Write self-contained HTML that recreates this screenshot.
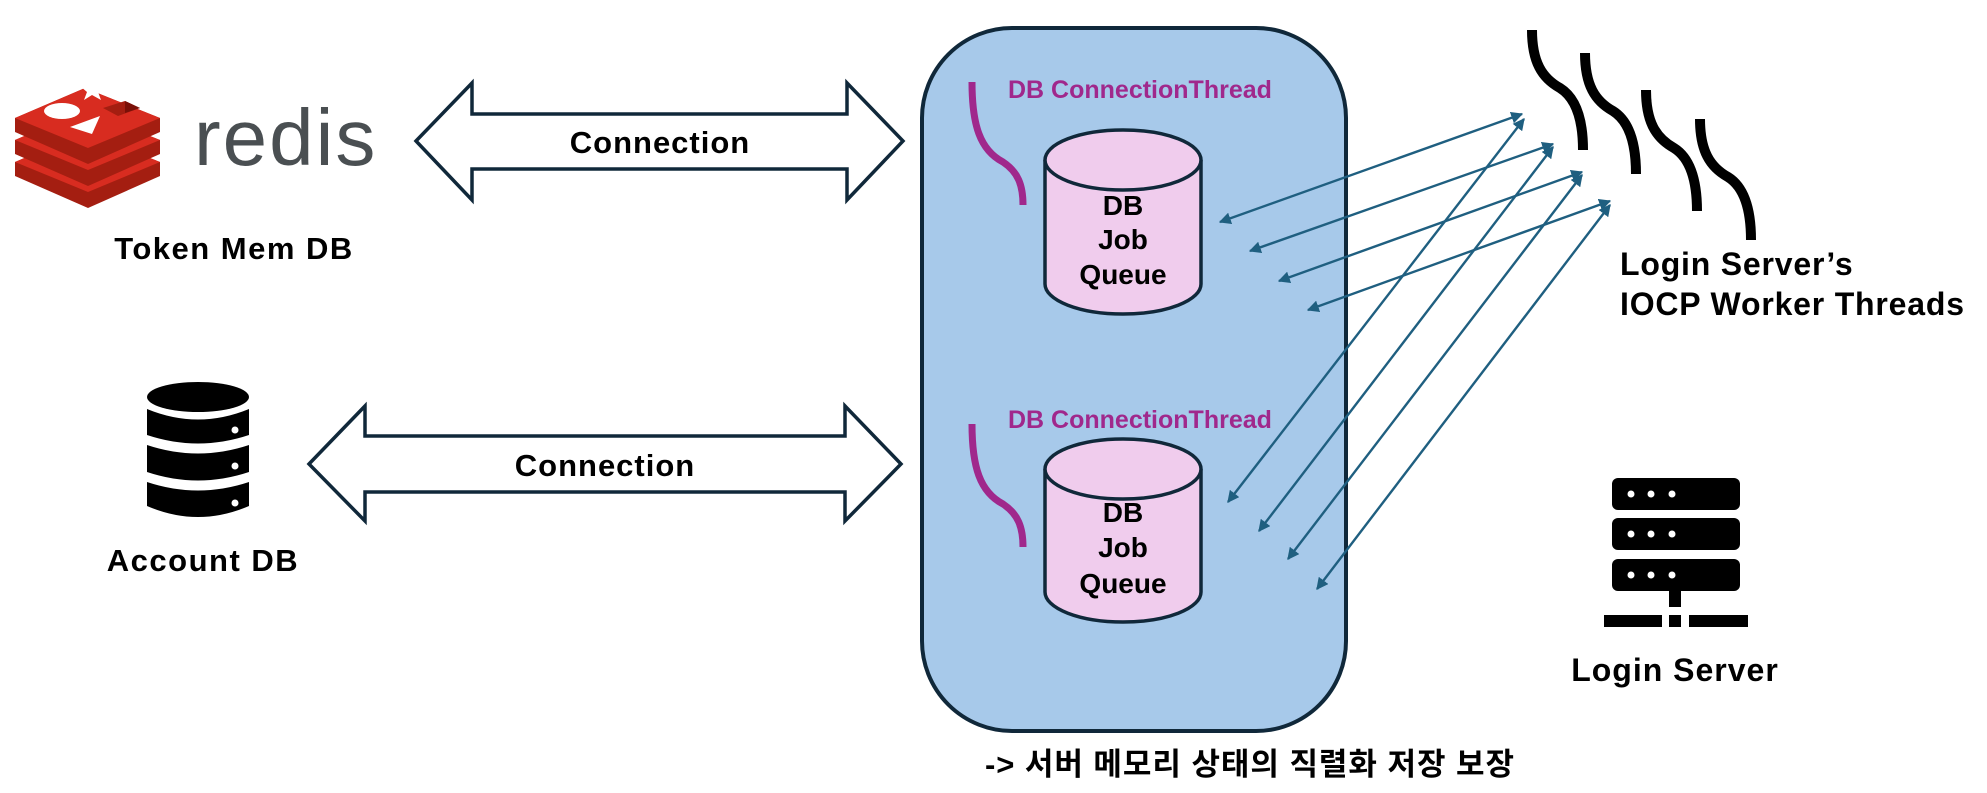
<!DOCTYPE html>
<html><head><meta charset="utf-8"><style>
html,body{margin:0;padding:0;background:#fff;}
svg{display:block;}
text{font-family:"Liberation Sans","Noto Sans CJK KR",sans-serif;font-weight:bold;}
</style></head><body>
<svg width="1987" height="793" viewBox="0 0 1987 793" xmlns="http://www.w3.org/2000/svg">
<defs>
<marker id="ah" viewBox="0 0 10 10" refX="9" refY="5" markerWidth="5" markerHeight="5" orient="auto-start-reverse">
<path d="M0,0 L10,5 L0,10 z" fill="#1f5f80"/></marker>
<g id="slab">
<path d="M15,118 L85,88 L160,118 L160,132 L88,164 L15,132 Z" fill="#a41e11"/>
<path d="M15,118 L85,88 L160,118 L88,148 Z" fill="#d82c20"/>
</g>
</defs>
<!-- redis logo -->
<use href="#slab" y="44"/>
<use href="#slab" y="22"/>
<use href="#slab" y="0"/>
<ellipse cx="62" cy="111" rx="18" ry="8" fill="#fff"/>
<polygon points="92,78 96,86 105,86 98,92 101,100 92,95 84,100 87,92 80,86 88,86" fill="#fff"/>
<polygon points="70,127 100,116 92,134" fill="#fff"/>
<polygon points="103,108 125,101 140,108 118,116" fill="#a41e11"/>
<polygon points="125,101 140,108 125,113" fill="#7a1008"/>
<text x="194" y="165" font-size="80" fill="#4a4f52" style="font-weight:normal" letter-spacing="2">redis</text>
<text x="234" y="259" font-size="31" text-anchor="middle" letter-spacing="1.5">Token Mem DB</text>

<!-- DB icon -->
<g fill="#000">
<ellipse cx="198" cy="397" rx="51" ry="15"/>
<path d="M147,409 Q198,430 249,409 L249,435 Q198,452 147,435 Z"/>
<path d="M147,445 Q198,462 249,445 L249,472 Q198,489 147,472 Z"/>
<path d="M147,482 Q198,499 249,482 L249,506 Q198,528 147,506 Z"/>
</g>
<g fill="#fff"><circle cx="235" cy="430" r="3.5"/><circle cx="235" cy="466" r="3.5"/><circle cx="235" cy="503" r="3.5"/></g>
<text x="203" y="571" font-size="31" text-anchor="middle" letter-spacing="1.5">Account DB</text>

<!-- double arrows -->
<path d="M416,141 L472,83 L472,114 L847,114 L847,83 L903,141 L847,200 L847,169 L472,169 L472,200 Z" fill="#fff" stroke="#10283a" stroke-width="3.5"/>
<text x="660" y="153" font-size="31" text-anchor="middle" letter-spacing="1">Connection</text>
<path d="M309,464 L365,406 L365,436 L845,436 L845,406 L901,464 L845,521 L845,492 L365,492 L365,521 Z" fill="#fff" stroke="#10283a" stroke-width="3.5"/>
<text x="605" y="476" font-size="31" text-anchor="middle" letter-spacing="1">Connection</text>

<!-- blue box -->
<rect x="922" y="28" width="424" height="703" rx="90" ry="90" fill="#a7c9ea" stroke="#10283a" stroke-width="4"/>
<text x="1008" y="98" font-size="25" fill="#a0288c">DB ConnectionThread</text>
<text x="1008" y="428" font-size="25" fill="#a0288c">DB ConnectionThread</text>
<path d="M972,82 C972,125 980,150 1003,162 C1018,172 1023,185 1023,205" fill="none" stroke="#a0288c" stroke-width="7"/>
<path d="M972,424 C972,467 980,492 1003,504 C1018,514 1023,527 1023,547" fill="none" stroke="#a0288c" stroke-width="7"/>

<!-- cylinders -->
<g stroke="#10283a" stroke-width="3.5" fill="#f0cced">
<path d="M1045,160 L1045,284 A78,30 0 0 0 1201,284 L1201,160"/>
<ellipse cx="1123" cy="160" rx="78" ry="30"/>
<path d="M1045,469 L1045,592 A78,30 0 0 0 1201,592 L1201,469"/>
<ellipse cx="1123" cy="469" rx="78" ry="30"/>
</g>
<g font-size="28" text-anchor="middle">
<text x="1123" y="215">DB</text><text x="1123" y="249">Job</text><text x="1123" y="284">Queue</text>
<text x="1123" y="522">DB</text><text x="1123" y="557">Job</text><text x="1123" y="593">Queue</text>
</g>

<!-- connector arrows -->
<g stroke="#1f5f80" stroke-width="2.4" marker-start="url(#ah)" marker-end="url(#ah)">
<line x1="1522" y1="114" x2="1220" y2="222"/>
<line x1="1553" y1="144" x2="1250" y2="251"/>
<line x1="1582" y1="172" x2="1279" y2="281"/>
<line x1="1610" y1="201" x2="1308" y2="310"/>
<line x1="1524" y1="119" x2="1228" y2="502"/>
<line x1="1553" y1="147" x2="1259" y2="531"/>
<line x1="1582" y1="175" x2="1288" y2="559"/>
<line x1="1610" y1="205" x2="1317" y2="589"/>
</g>

<!-- threads -->
<g fill="none" stroke="#000" stroke-width="10">
<path d="M1532,30 C1532,62 1542,78 1560,88 C1576,98 1583,120 1583,150"/>
<path d="M1585,53 C1585,85 1595,101 1613,111 C1629,121 1636,143 1636,174"/>
<path d="M1646,90 C1646,122 1656,138 1674,148 C1690,158 1697,180 1697,211"/>
<path d="M1700,119 C1700,151 1710,167 1728,177 C1744,187 1751,209 1751,240"/>
</g>
<text x="1620" y="275" font-size="32" letter-spacing="0.8">Login Server’s</text>
<text x="1620" y="315" font-size="32" letter-spacing="0.8">IOCP Worker Threads</text>

<!-- server icon -->
<g fill="#000">
<rect x="1612" y="478" width="128" height="32" rx="6"/>
<rect x="1612" y="518" width="128" height="32" rx="6"/>
<rect x="1612" y="559" width="128" height="32" rx="6"/>
<rect x="1669" y="591" width="12" height="16"/>
<rect x="1604" y="615" width="58" height="12"/>
<rect x="1669" y="615" width="12" height="12"/>
<rect x="1689" y="615" width="59" height="12"/>
</g>
<g fill="#fff">
<circle cx="1631" cy="494" r="3.5"/><circle cx="1651" cy="494" r="3.5"/><circle cx="1672" cy="494" r="3.5"/>
<circle cx="1631" cy="534" r="3.5"/><circle cx="1651" cy="534" r="3.5"/><circle cx="1672" cy="534" r="3.5"/>
<circle cx="1631" cy="575" r="3.5"/><circle cx="1651" cy="575" r="3.5"/><circle cx="1672" cy="575" r="3.5"/>
</g>
<text x="1675" y="681" font-size="32" text-anchor="middle" letter-spacing="1">Login Server</text>

<text x="985" y="775" font-size="31" textLength="529" lengthAdjust="spacing">-&gt; 서버 메모리 상태의 직렬화 저장 보장</text>
</svg>
</body></html>
